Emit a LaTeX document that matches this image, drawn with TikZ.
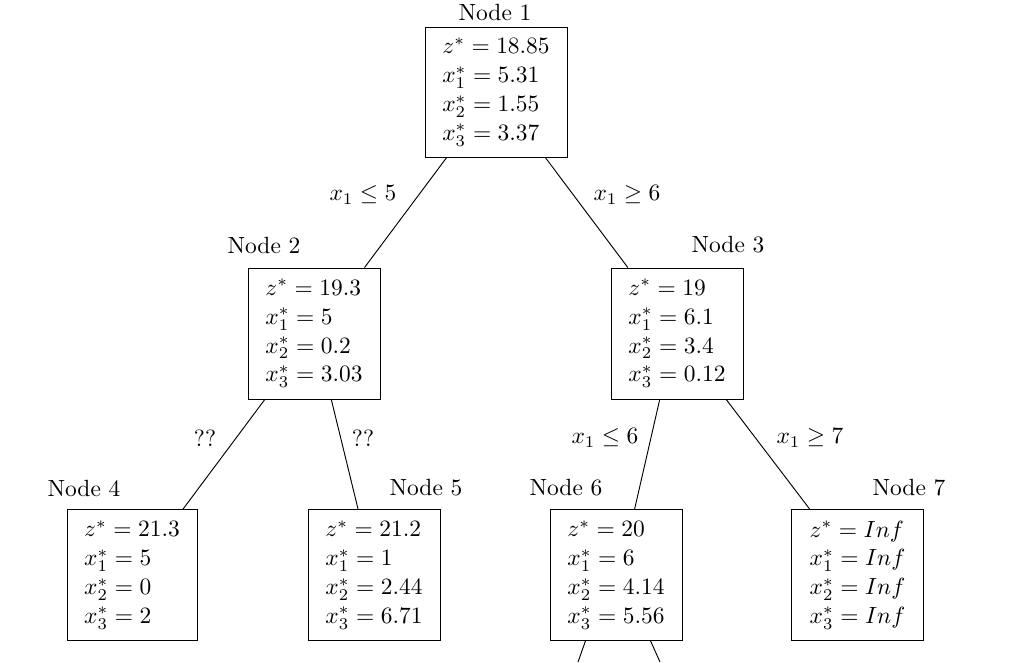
\documentclass[tikz,border=0pt]{standalone}
\usetikzlibrary{calc}
\begin{document}
\begin{tikzpicture}[x=0.015cm,y=-0.015cm,
  box/.style={draw,inner sep=0pt,minimum width=1.98cm,minimum height=1.965cm,align=left,font=\fontsize{10}{12.3}\selectfont},
  lbl/.style={inner sep=1pt}]
\useasboundingbox (0,0) rectangle (1024,662);
\node[box,minimum width=2.13cm,minimum height=1.95cm] (n1) at (496,92) {$z^*=18.85$\\$x_1^*=5.31$\\$x_2^*=1.55$\\$x_3^*=3.37$};
\node[box] (n2) at (314,333.5) {$z^*=19.3$\\$x_1^*=5$\\$x_2^*=0.2$\\$x_3^*=3.03$};
\node[box] (n3) at (677,333.5) {$z^*=19$\\$x_1^*=6.1$\\$x_2^*=3.4$\\$x_3^*=0.12$};
\node[box,minimum width=1.95cm] (n4) at (132,575) {$z^*=21.3$\\$x_1^*=5$\\$x_2^*=0$\\$x_3^*=2$};
\node[box] (n5) at (374,575) {$z^*=21.2$\\$x_1^*=1$\\$x_2^*=2.44$\\$x_3^*=6.71$};
\node[box] (n6) at (616,575) {$z^*=20$\\$x_1^*=6$\\$x_2^*=4.14$\\$x_3^*=5.56$};
\node[box] (n7) at (857.5,575) {$z^*=Inf$\\$x_1^*=Inf$\\$x_2^*=Inf$\\$x_3^*=Inf$};
\node[lbl] (t1) at (495,12) {Node 1};
\node[lbl] (t2) at (264,245) {Node 2};
\node[lbl] (t3) at (728,245) {Node 3};
\node[lbl] (t4) at (84,488) {Node 4};
\node[lbl] (t5) at (426,488) {Node 5};
\node[lbl] (t6) at (566,488) {Node 6};
\node[lbl] (t7) at (909,488) {Node 7};
\node[lbl] (e1) at (363,195) {$x_1\le 5$};
\node[lbl] (e2) at (627,195) {$x_1\ge 6$};
\node[lbl] (e3) at (205,438) {??};
\node[lbl] (e4) at (363,438) {??};
\node[lbl] (e5) at (605,438) {$x_1\le 6$};
\node[lbl] (e6) at (810,438) {$x_1\ge 7$};
\coordinate (d1) at (578,662);
\coordinate (d2) at (660,662);
\draw ($(n1.south west)!0.155!(n1.south east)$) -- ($(n2.north west)!0.88!(n2.north east)$);
\draw ($(n1.south west)!0.845!(n1.south east)$) -- ($(n3.north west)!0.13!(n3.north east)$);
\draw ($(n2.south west)!0.13!(n2.south east)$) -- ($(n4.north west)!0.89!(n4.north east)$);
\draw ($(n2.south west)!0.63!(n2.south east)$) -- ($(n5.north west)!0.38!(n5.north east)$);
\draw ($(n3.south west)!0.37!(n3.south east)$) -- ($(n6.north west)!0.64!(n6.north east)$);
\draw ($(n3.south west)!0.87!(n3.south east)$) -- ($(n7.north west)!0.14!(n7.north east)$);
\draw ($(n6.south west)!0.27!(n6.south east)$) -- (d1);
\draw ($(n6.south west)!0.76!(n6.south east)$) -- (d2);
\end{tikzpicture}
\end{document}
